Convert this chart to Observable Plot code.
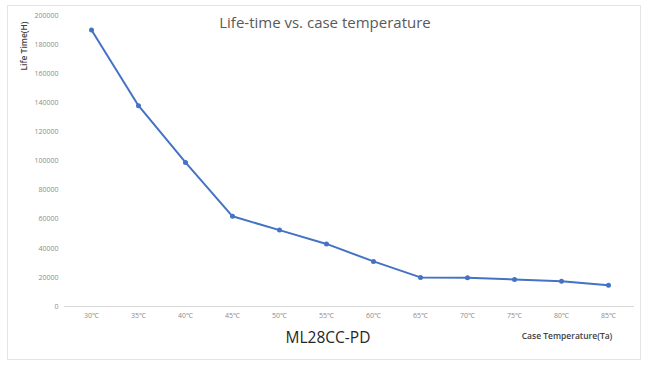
<!DOCTYPE html>
<html>
<head>
<meta charset="utf-8">
<script src="https://cdn.jsdelivr.net/npm/d3@7"></script>
<script src="https://cdn.jsdelivr.net/npm/@observablehq/plot@0.6"></script>
<style>
  html, body { margin: 0; padding: 0; background: #fff; }
  #wrap { position: relative; width: 650px; height: 367px; overflow: hidden; font-family: "Open Sans", "Liberation Sans", sans-serif; }
  #frame { position: absolute; left: 7px; top: 5px; width: 634px; height: 355px; border: 1px solid #e4e4e4; box-sizing: border-box; }
  .lbl { position: absolute; white-space: nowrap; }
  #title { left: 0; width: 650px; top: 12px; text-align: center; padding-left: 0; font-size: 15px; color: #595959; }
  #ytitle { left: 23px; top: 46px; transform: translate(-50%, -50%) rotate(-90deg); font-size: 8.5px; font-weight: 600; color: #404040; }
  #model { left: 328px; top: 337px; transform: translate(-50%, -50%); font-size: 15.5px; color: #262626; }
  #xtitle { left: 567px; top: 335px; transform: translate(-50%, -50%); font-size: 8.5px; font-weight: 600; color: #404040; }
  svg { position: absolute; left: 0; top: 0; }
</style>
</head>
<body>
<div id="wrap">
  <div id="frame"></div>
  <div id="chart"></div>
  <div class="lbl" id="title">Life-time vs. case temperature</div>
  <div class="lbl" id="ytitle">Life Time(H)</div>
  <div class="lbl" id="model">ML28CC-PD</div>
  <div class="lbl" id="xtitle">Case Temperature(Ta)</div>
</div>
<script>
const temperatures = ["30℃", "35℃", "40℃", "45℃", "50℃", "55℃", "60℃", "65℃", "70℃", "75℃", "80℃", "85℃"];
const lifeHours = [190000, 138000, 99000, 62000, 52500, 43000, 31000, 20000, 19700, 18600, 17400, 14600];
const yTicks = [0, 20000, 40000, 60000, 80000, 100000, 120000, 140000, 160000, 180000, 200000];

const data = temperatures.map((t, i) => ({t, v: lifeHours[i]}));

const chart = Plot.plot({
  width: 650,
  height: 367,
  marginLeft: 64,
  marginRight: 16,
  marginTop: 15,
  marginBottom: 61,
  style: {background: "transparent", fontFamily: "'Open Sans', 'Liberation Sans', sans-serif"},
  x: {type: "point", domain: temperatures, padding: 0.5},
  y: {domain: [0, 200000]},
  marks: [
    Plot.ruleY([0], {stroke: "#d9d9d9", strokeWidth: 1}),
    Plot.axisY({ticks: yTicks, tickSize: 0, tickPadding: 6, label: null, fontSize: 7, fill: "#8c8c8c", tickFormat: d => String(d)}),
    Plot.axisX({tickSize: 0, tickPadding: 7, label: null, fontSize: 7, fill: "#8c8c8c"}),
    Plot.line(data, {x: "t", y: "v", stroke: "#4472C4", strokeWidth: 2}),
    Plot.dot(data, {x: "t", y: "v", fill: "#4472C4", r: 2.5})
  ]
});
document.getElementById("chart").appendChild(chart);
</script>
</body>
</html>
